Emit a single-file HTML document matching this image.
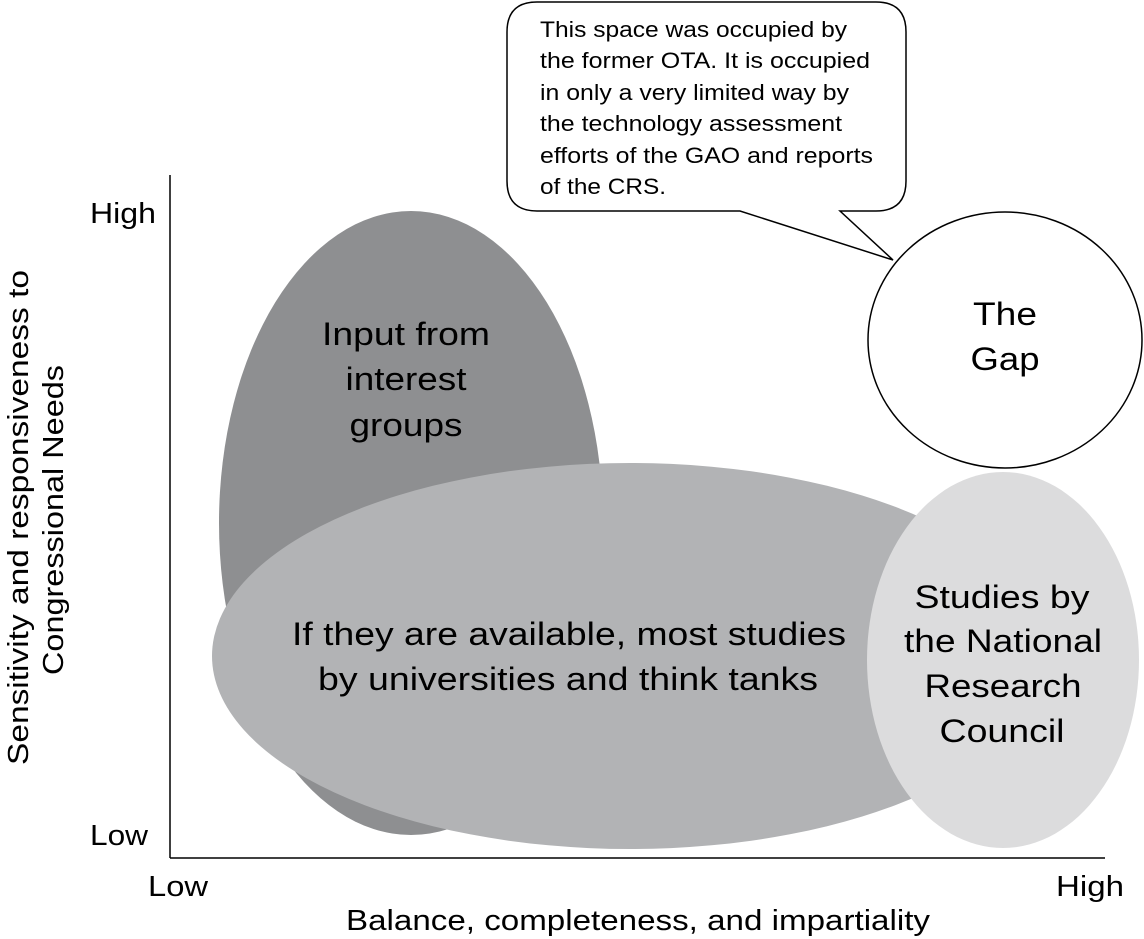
<!DOCTYPE html>
<html><head><style>
html,body{margin:0;padding:0;background:#fff;}
svg{display:block;font-family:"Liberation Sans",Arial,sans-serif;}
</style></head><body>
<svg width="1144" height="939" viewBox="0 0 1144 939" xmlns="http://www.w3.org/2000/svg">
<rect width="1144" height="939" fill="#fff"/>
<ellipse cx="411" cy="523" rx="192" ry="312" fill="#8e8f91"/>
<ellipse cx="630" cy="656" rx="418" ry="193" fill="#b2b3b5"/>
<ellipse cx="1003" cy="660" rx="136" ry="188" fill="#dcdcdd"/>
<ellipse cx="1005" cy="340" rx="137" ry="128" fill="#fff" stroke="#000" stroke-width="1.5"/>
<line x1="170" y1="175" x2="170" y2="858" stroke="#000" stroke-width="1.5"/>
<line x1="170" y1="858" x2="1105" y2="858" stroke="#000" stroke-width="1.5"/>
<path d="M537,2 H876 Q906,2 906,32 V181 Q906,211 876,211 H840 L893,260 L740,211 H537 Q507,211 507,181 V32 Q507,2 537,2 Z" fill="#fff" stroke="#000" stroke-width="1.5"/>
<g font-size="22" fill="#000" lengthAdjust="spacingAndGlyphs">
<text x="540" y="37" textLength="307" lengthAdjust="spacingAndGlyphs">This space was occupied by</text>
<text x="540" y="68" textLength="330" lengthAdjust="spacingAndGlyphs">the former OTA. It is occupied</text>
<text x="540" y="100" textLength="309" lengthAdjust="spacingAndGlyphs">in only a very limited way by</text>
<text x="540" y="131" textLength="302" lengthAdjust="spacingAndGlyphs">the technology assessment</text>
<text x="540" y="163" textLength="333" lengthAdjust="spacingAndGlyphs">efforts of the GAO and reports</text>
<text x="540" y="194" textLength="126" lengthAdjust="spacingAndGlyphs">of the CRS.</text>
</g>
<g font-size="32" fill="#000" text-anchor="middle">
<text x="1005" y="325" textLength="64" lengthAdjust="spacingAndGlyphs">The</text>
<text x="1005" y="370" textLength="69" lengthAdjust="spacingAndGlyphs">Gap</text>
<text x="406" y="345" textLength="168" lengthAdjust="spacingAndGlyphs">Input from</text>
<text x="406" y="390" textLength="121" lengthAdjust="spacingAndGlyphs">interest</text>
<text x="406" y="436" textLength="113" lengthAdjust="spacingAndGlyphs">groups</text>
<text x="569" y="645" textLength="554" lengthAdjust="spacingAndGlyphs">If they are available, most studies</text>
<text x="568" y="690" textLength="500" lengthAdjust="spacingAndGlyphs">by universities and think tanks</text>
<text x="1002" y="608" textLength="175" lengthAdjust="spacingAndGlyphs">Studies by</text>
<text x="1003" y="652" textLength="198" lengthAdjust="spacingAndGlyphs">the National</text>
<text x="1003" y="697" textLength="157" lengthAdjust="spacingAndGlyphs">Research</text>
<text x="1002" y="742" textLength="125" lengthAdjust="spacingAndGlyphs">Council</text>
</g>
<g font-size="29" fill="#000">
<text x="90" y="223" textLength="66" lengthAdjust="spacingAndGlyphs">High</text>
<text x="90" y="845" textLength="58" lengthAdjust="spacingAndGlyphs">Low</text>
<text x="148" y="896" textLength="60" lengthAdjust="spacingAndGlyphs">Low</text>
<text x="1056" y="896" textLength="68" lengthAdjust="spacingAndGlyphs">High</text>
<text x="346" y="930" textLength="584" lengthAdjust="spacingAndGlyphs">Balance, completeness, and impartiality</text>
<text transform="translate(28,765) rotate(-90)" textLength="495" lengthAdjust="spacingAndGlyphs">Sensitivity and responsiveness to</text>
<text transform="translate(63,675) rotate(-90)" textLength="310" lengthAdjust="spacingAndGlyphs">Congressional Needs</text>
</g>
</svg>
</body></html>
